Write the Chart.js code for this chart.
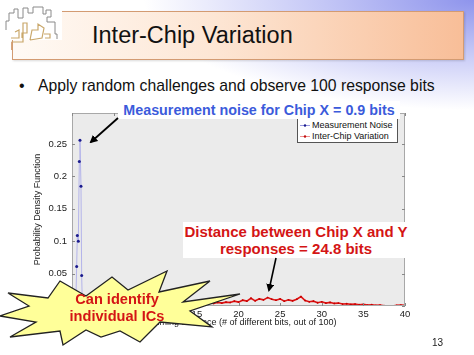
<!DOCTYPE html>
<html><head><meta charset="utf-8">
<script src="https://cdn.jsdelivr.net/npm/chart.js@4.4.0/dist/chart.umd.min.js"></script>
<style>
html,body{margin:0;padding:0;}
body{width:474px;height:355px;position:relative;overflow:hidden;background:#fff;font-family:"Liberation Sans",Arial,sans-serif;}
.abs{position:absolute;}
#bg{left:0;top:0;width:474px;height:355px;background:radial-gradient(ellipse 330px 110px at 100% 0%,#8e94ec 0%,#c3c6f6 45%,rgba(255,255,255,0) 100%);}
#tbox{left:12px;top:11px;width:450px;height:47px;border:1.5px solid #d39b72;background:linear-gradient(to right,#fffaf5 0%,#fde6d4 45%,#f8be98 100%);box-shadow:1px 1px 2px rgba(0,0,0,0.15);}
#title{left:92px;top:21px;font-size:23.5px;line-height:28px;color:#111;white-space:nowrap;}
#bdot{left:19px;top:76px;font-size:16px;line-height:20px;color:#111;}
#bullet{left:38px;top:76px;font-size:15.75px;line-height:20px;color:#111;white-space:nowrap;}
#wrap{left:32px;top:100px;width:388px;height:228px;}
#ann1{left:118px;top:101px;width:282px;height:18px;background:#fff;color:#3b5bdb;font-weight:bold;font-size:14.3px;line-height:18px;text-align:center;white-space:nowrap;}
#ann2{left:183px;top:222px;width:226px;height:36px;background:#fff;color:#d41515;font-weight:bold;font-size:15px;line-height:17px;text-align:center;white-space:nowrap;padding-top:1px;box-sizing:border-box;}
#legend{left:297px;top:118px;width:101px;height:25px;background:#fff;border:1px solid #555;font-size:9px;color:#111;box-sizing:border-box;}
.lrow{position:absolute;left:0;height:11px;line-height:11px;white-space:nowrap;}
.lrow svg{position:absolute;left:0;top:0;}
.lrow span{position:absolute;left:14px;top:0;}
#star{left:0;top:0;}
#startxt{left:57px;top:291px;width:120px;text-align:center;color:#d41515;font-weight:bold;font-size:14.6px;line-height:17px;white-space:nowrap;}
#pg{left:432px;top:337px;font-size:10px;color:#222;}
</style></head><body>
<div id="bg" class="abs"></div>
<div id="tbox" class="abs"></div>
<svg class="abs" style="left:0;top:0" width="70" height="50">
  <rect x="0" y="0" width="62" height="40" fill="#fff"/>
  <path d="M6,30 L6,21 L9,21 L9,13 L14,13 L14,9 L18,9 L18,18 L23,18 L23,8 L28,8 L28,13 L33,13 L33,7 L43,7 L43,14 L46,14 L46,10 L51,10 L51,17 L47,17 L47,22 L55,22 L55,34 L57,34 L57,39" fill="none" stroke="#8a8a8a" stroke-width="1"/>
  <path d="M12,60 L12,42 L23,42 L23,23 L27,23 L27,33 L22,33 L22,38 M11,38 L19,38 L19,30 L15,32 M30,40 L32,30 L38,30 L38,24 L44,28 L42,38 L30,40 M44,34 L50,34 L50,38 L45,38" fill="none" stroke="#c9a76a" stroke-width="1.2"/>
  <path d="M12,42 L12,59 L70,59" fill="none" stroke="#d39b72" stroke-width="1.5"/>
</svg>
<div id="title" class="abs">Inter-Chip Variation</div>
<div id="bdot" class="abs">•</div>
<div id="bullet" class="abs">Apply random challenges and observe 100 response bits</div>
<div id="wrap" class="abs"><canvas id="c" width="388" height="228"></canvas></div>
<div id="legend" class="abs">
  <div class="lrow" style="top:1px"><svg width="14" height="11"><line x1="2" y1="5.5" x2="12" y2="5.5" stroke="#9a9ae0" stroke-width="1"/><circle cx="7" cy="5.5" r="1.2" fill="#1a1a8c"/></svg><span>Measurement Noise</span></div>
  <div class="lrow" style="top:12px"><svg width="14" height="11"><line x1="2" y1="5.5" x2="12" y2="5.5" stroke="#f09090" stroke-width="1"/><circle cx="7" cy="5.5" r="1.2" fill="#c01010"/></svg><span>Inter-Chip Variation</span></div>
</div>
<div id="ann1" class="abs">Measurement noise for Chip X = 0.9 bits</div>
<div id="ann2" class="abs">Distance between Chip X and Y<br>responses = 24.8 bits</div>
<svg id="star" class="abs" width="474" height="355">
  <defs><marker id="ah" markerWidth="8" markerHeight="8" refX="6" refY="4" orient="auto" markerUnits="userSpaceOnUse"><path d="M0,0 L8,4 L0,8 Z" fill="#000"/></marker></defs>
  <line x1="118" y1="118" x2="91" y2="142" stroke="#000" stroke-width="1.8" marker-end="url(#ah)"/>
  <line x1="276" y1="258" x2="269" y2="290" stroke="#000" stroke-width="1.6" marker-end="url(#ah)"/>
  <polygon points="60,281 86,296 112,277 128,290 167,271 159,292 210,281 183,302 240,294 190,311 212,327 160,322 140,342 120,331 101,337 86,330 63,345 60,331 10,337 36,322 0,316 29,306 8,293 48,298" fill="#ffff99" stroke="#222" stroke-width="1.3"/>
</svg>
<div id="startxt" class="abs">Can identify<br>individual ICs</div>
<div id="pg" class="abs">13</div>
<script>
const FONT = "'Liberation Sans', Arial, sans-serif";
const xTicks = [0,5,10,15,20,25,30,35,40];
const yTicks = [0,0.05,0.1,0.15,0.2,0.25];
const xTitle = "Hamming Distance (# of different bits, out of 100)";
const yTitle = "Probability Density Function";
const noiseLabel = "Measurement Noise";
const interLabel = "Inter-Chip Variation";
const noiseX = [0.45,0.56,0.64,0.76,0.88,0.96,1.08,1.16,1.25];
const noiseY = [0,0.061,0.109,0.100,0.223,0.256,0.185,0.047,0];
const interX = [0,0.5,1,1.5,2,2.5,3,3.5,4,4.5,
  5,5.5,6,6.5,7,7.5,8,8.5,9,9.5,
  10,10.5,11,11.5,12,12.5,13,13.5,14,14.5,
  15,15.5,16,16.5,17,17.5,18,18.5,19,19.5,
  20,20.5,21,21.5,22,22.5,23,23.5,24,24.5,
  25,25.5,26,26.5,27,27.5,28,28.5,29,29.5,
  30,30.5,31,31.5,32,32.5,33,33.5,34,34.5,
  35,35.5,36,36.5,37,37.5,38,38.5,39,39.5,40];
const interY = [0,0,0,0,0,0,0,0.0005,0,0.0005,
  0.0005,0.001,0.0005,0.001,0.001,0.0015,0.001,0.0015,0.002,0.0015,
  0.002,0.0025,0.002,0.003,0.0025,0.003,0.0035,0.003,0.004,0.0035,
  0.003,0.0045,0.0035,0.005,0.004,0.0055,0.0045,0.006,0.0055,0.0075,
  0.006,0.009,0.0075,0.012,0.008,0.011,0.0095,0.013,0.0105,0.009,
  0.011,0.0075,0.0095,0.008,0.0105,0.0145,0.0085,0.0065,0.0075,0.005,
  0.0065,0.0045,0.0055,0.004,0.0045,0.003,0.0035,0.0025,0.003,0.002,
  0.0025,0.0015,0.002,0.001,0.0015,0.0005,0,0,0.001,0.0015,0.001];

const frame = {
  id:'frame',
  beforeDraw(c){
    const {ctx, chartArea:a} = c;
    ctx.save(); ctx.fillStyle = '#ebebeb';
    ctx.fillRect(a.left, a.top, a.right-a.left, a.bottom-a.top); ctx.restore();
  },
  afterDraw(c){
    const {ctx, chartArea:a, scales} = c;
    ctx.save();
    ctx.strokeStyle = '#a8a8a8'; ctx.lineWidth = 1;
    ctx.strokeRect(a.left+0.5, a.top+0.5, a.right-a.left-1, a.bottom-a.top-1);
    ctx.strokeStyle = '#888';
    ctx.beginPath();
    xTicks.forEach(v=>{ const px = Math.round(scales.x.getPixelForValue(v))+0.5;
      ctx.moveTo(px,a.bottom); ctx.lineTo(px,a.bottom-3); ctx.moveTo(px,a.top); ctx.lineTo(px,a.top+3); });
    yTicks.forEach(v=>{ const py = Math.round(scales.y.getPixelForValue(v))+0.5;
      ctx.moveTo(a.left,py); ctx.lineTo(a.left+3,py); ctx.moveTo(a.right,py); ctx.lineTo(a.right-3,py); });
    ctx.stroke(); ctx.restore();
  }
};

new Chart(document.getElementById('c'), {
  type:'line',
  data:{datasets:[
    {label:noiseLabel, data:noiseX.map((x,i)=>({x, y:noiseY[i]})), borderColor:'#b4b4ea', borderWidth:1,
     pointRadius:1.5, pointBackgroundColor:'#1a1a8c', pointBorderWidth:0, tension:0},
    {label:interLabel, data:interX.map((x,i)=>({x, y:interY[i]})), borderColor:'#e01212', borderWidth:1.6,
     pointRadius:0.9, pointBackgroundColor:'#c00000', pointBorderWidth:0, tension:0}
  ]},
  options:{
    responsive:false, animation:false, events:[],
    layout:{padding:{top:13, right:15, left:0, bottom:0}},
    plugins:{legend:{display:false}, tooltip:{enabled:false}},
    scales:{
      x:{type:'linear', min:0, max:40,
        afterBuildTicks:s=>{s.ticks = xTicks.map(v=>({value:v}));},
        afterFit:s=>{s.height = 22;},
        grid:{display:false, drawTicks:false}, border:{display:false},
        ticks:{font:{size:9.5, family:FONT}, color:'#222', padding:3, maxRotation:0, autoSkip:false},
        title:{display:true, text:xTitle, font:{size:9, family:FONT}, color:'#222', padding:{top:0,bottom:0}}},
      y:{type:'linear', min:0, max:0.298,
        afterBuildTicks:s=>{s.ticks = yTicks.map(v=>({value:v}));},
        afterFit:s=>{s.width = 40;},
        grid:{display:false, drawTicks:false}, border:{display:false},
        ticks:{font:{size:9.5, family:FONT}, color:'#222', padding:5, autoSkip:false,
          callback:v=>String(Number(v.toFixed(2)))},
        title:{display:true, text:yTitle, font:{size:9, family:FONT}, color:'#222', padding:{top:0,bottom:0}}}
    }
  },
  plugins:[frame]
});
</script>
</body></html>
